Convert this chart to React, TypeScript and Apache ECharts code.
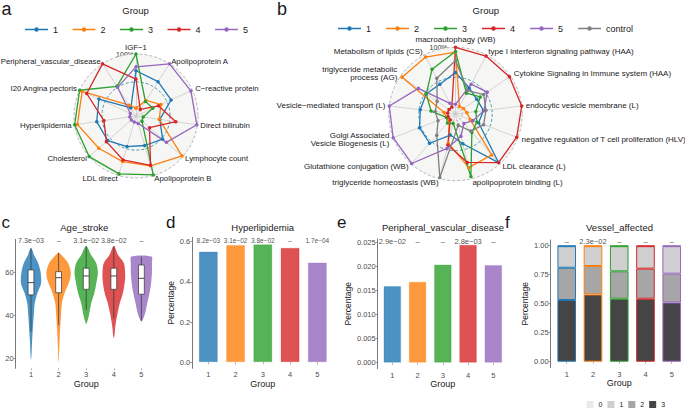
import { useEffect, useRef } from 'react'
import * as echarts from 'echarts'

const FONT = '"Liberation Sans", Arial, Helvetica, sans-serif'

const groups = ['1', '2', '3', '4', '5']
const groupColors = ['#1f77b4', '#ff7f0e', '#2ca02c', '#d62728', '#9467bd']
const controlColor = '#7f7f7f'

// ---- a: clinical traits, axes clockwise from the top, share 0..1 ----
const clinicalAxes = [
  'IGF−1',
  'Apolipoprotein A',
  'C−reactive protein',
  'Direct bilirubin',
  'Lymphocyte count',
  'Apolipoprotein B',
  'LDL direct',
  'Cholesterol',
  'Hyperlipidemia',
  'I20 Angina pectoris',
  'Peripheral_vascular_disease',
]
const clinicalG1 = [0.7, 0.62, 0.58, 0.32, 0.52, 0.44, 0.46, 0.56, 0.6, 0.62, 0.06]
const clinicalG2 = [0.03, 0.22, 0.38, 0.31, 0.98, 0.82, 0.74, 0.77, 0.95, 0.95, 0.12]
const clinicalG3 = [1.0, 0.2, 0.22, 0.02, 0.03, 0.99, 0.97, 1.0, 1.0, 1.0, 0.52]
const clinicalG4 = [0.55, 0.03, 0.33, 0.61, 0.21, 0.81, 0.71, 0.59, 0.47, 0.86, 1.0]
const clinicalG5 = [0.77, 1.0, 0.97, 0.99, 0.61, 0.03, 0.0, 0.0, 0.0, 0.0, 0.5]

// ---- b: pathways, clockwise from the top ----
const pathwayAxes = [
  'macroautophagy (WB)',
  'type I interferon signaling pathway (HAA)',
  'Cytokine Signaling in Immune system (HAA)',
  'endocytic vesicle membrane (L)',
  'negative regulation of T cell proliferation (HLV)',
  'LDL clearance (L)',
  'apolipoprotein binding (L)',
  'triglyceride homeostasis (WB)',
  'Glutathione conjugation (WB)',
  'Golgi Associated\nVesicle Biogenesis (L)',
  'Vesicle−mediated transport (L)',
  'triglyceride metabolic\nprocess (AG)',
  'Metabolism of lipids (CS)',
]
const pathwayG1 = [0.58, 0.38, 0.32, 0.36, 0.3, 0.97, 0.4, 0.25, 0.54, 0.53, 0.48, 0.48, 0.45]
const pathwayG2 = [0.92, 0.03, 0.05, 0.08, 0.15, 0.8, 0.81, 0.39, 0.05, 0.05, 0.08, 0.97, 0.96]
const pathwayG3 = [0.93, 0.28, 0.39, 0.23, 0.27, 0.3, 0.96, 0.05, 0.09, 0.05, 0.3, 0.48, 0.73]
const pathwayG4 = [1.0, 0.98, 0.98, 1.0, 0.98, 0.97, 0.72, 0.42, 0.02, 0.02, 0.02, 0.02, 0.02]
const pathwayG5 = [0.05, 0.45, 0.53, 0.37, 0.2, 0.1, 0.27, 0.48, 0.99, 1.0, 1.0, 0.64, 0.09]
const pathwayControl = [0.78, 0.33, 0.46, 0.4, 0.39, 0.27, 0.08, 0.98, 0.36, 0.2, 0.23, 0.26, 0.56]

const gridLevels = [0, 0.5, 1]
const gridLevelLabels = ['0%', '50%', '100%']

// ---- c: age at stroke; violin outline as [age, relative half width] ----
const ageViolin1 = [[19.2, 0], [21.6, 0.04], [27, 0.08], [33.2, 0.14], [40, 0.22], [45.6, 0.3], [50.2, 0.51], [54.9, 0.81], [60, 0.77], [64.2, 0.58], [67.3, 0.3], [71.2, 0]]
const ageViolin2 = [[18, 0], [25.4, 0.06], [33.2, 0.12], [40, 0.19], [45.6, 0.27], [50.2, 0.48], [56.4, 0.9], [60, 0.98], [64.2, 0.77], [67.3, 0.34], [69.1, 0]]
const ageViolin3 = [[36, 0], [37, 0.08], [40, 0.22], [45.6, 0.4], [50.2, 0.65], [56.4, 0.86], [60, 0.94], [64.2, 0.81], [68, 0.4], [72.2, 0]]
const ageViolin4 = [[29.3, 0], [30.9, 0.06], [34.7, 0.12], [40, 0.27], [45.6, 0.48], [50.2, 0.73], [56.4, 0.9], [60, 0.91], [64.2, 0.81], [68, 0.35], [72.2, 0]]
const ageViolin5 = [[37, 0], [38.5, 0.15], [40.9, 0.3], [45.6, 0.47], [50.2, 0.65], [54.9, 0.78], [60, 0.85], [64.2, 0.85], [67.3, 0.81]]
// whisker low, q1, median, q3, whisker high
const ageBox1 = [32.4, 49.5, 55.2, 61.1, 71.2]
const ageBox2 = [35.5, 50.5, 57.5, 60.3, 69.1]
const ageBox3 = [42.5, 52.1, 58.3, 61.9, 72.2]
const ageBox4 = [38.6, 52.1, 58.3, 61.9, 72.2]
const ageBox5 = [37.5, 49.8, 57.2, 63.4, 67.3]
const ageTicks = [20, 40, 60]
const agePvals = ['7.3e−03', '–', '3.1e−02', '3.8e−02', '–']

// ---- d ----
const hyperValues = [0.551, 0.584, 0.587, 0.57, 0.497]
const hyperTicks = [0, 0.2, 0.4, 0.6]
const hyperPvals = ['8.2e−03', '3.1e−02', '3.8e−02', '–', '1.7e−04']

// ---- e ----
const pvdValues = [0.0159, 0.0168, 0.0204, 0.0245, 0.0203]
const pvdTicks = [0, 0.005, 0.01, 0.015, 0.02, 0.025]
const pvdPvals = ['2.9e−02', '–', '–', '2.8e−03', '–']

// ---- f ----
const vesselLevels = ['0', '1', '2', '3']
const vesselFills = ['#e9e9e9', '#cfcfcf', '#a6a6a6', '#454545']
const vessel0 = [0.004, 0.004, 0.004, 0.004, 0.004]
const vessel1 = [0.186, 0.171, 0.217, 0.194, 0.237]
const vessel2 = [0.278, 0.245, 0.236, 0.259, 0.248]
const vessel3 = [0.532, 0.58, 0.543, 0.543, 0.511]
const vesselTicks = [0, 0.25, 0.5, 0.75, 1]
const vesselPvals = ['–', '2.3e−02', '–', '–', '–']

// layout
const RADAR_A = { center: [136, 116], radius: 62, labelX: 134, font: 7.8, gap: 3 }
const RADAR_B = { center: [455.5, 114], radius: 66.7, labelX: 447.5, font: 8, gap: 4 }
const RMIN = -1 / 9

const rgba = (hex: string, a: number) => {
  const n = parseInt(hex.slice(1), 16)
  return `rgba(${(n >> 16) & 255},${(n >> 8) & 255},${n & 255},${a})`
}
// echarts lays radar indicators counter-clockwise
const ccw = <T,>(a: T[]) => [a[0], ...a.slice(1).reverse()]

const LEGEND_LINE =
  'path://M0,2.35H9.6V3.65H0Z M13.4,2.35H23V3.65H13.4Z M13.7,3A2.2,2.2,0,1,1,9.3,3A2.2,2.2,0,1,1,13.7,3Z'

type RadarCfg = { center: number[]; radius: number; labelX: number; font: number; gap: number }

function radarSet(cfg: RadarCfg, names: string[]) {
  const plain = names.map(() => ({ name: '', min: RMIN, max: 1 }))
  const base = {
    center: cfg.center,
    shape: 'circle',
    splitNumber: 1,
    startAngle: 90,
    axisLabel: { show: false },
    axisTick: { show: false },
  }
  return [
    {
      ...base,
      radius: cfg.radius,
      indicator: ccw(names).map((n) => ({ name: n, min: RMIN, max: 1 })),
      nameGap: cfg.gap,
      axisName: { color: '#1a1a1a', fontSize: cfg.font, fontFamily: FONT },
      axisLine: { lineStyle: { color: '#c4c4c4', width: 0.7 } },
      splitLine: { lineStyle: { color: '#a3a3a3', width: 0.8, type: [3, 2] } },
      splitArea: { areaStyle: { color: ['#f6f6f5'] } },
    },
    {
      ...base,
      radius: cfg.radius * (0.9 * gridLevels[1] + 0.1),
      indicator: plain,
      axisName: { show: false },
      axisLine: { show: false },
      splitArea: { show: false },
      splitLine: { lineStyle: { color: '#3b8ea0', width: 0.9, type: [3, 2] } },
    },
    {
      ...base,
      radius: cfg.radius * (0.9 * gridLevels[0] + 0.1),
      indicator: plain,
      axisName: { show: false },
      axisLine: { show: false },
      splitArea: { show: false },
      splitLine: { lineStyle: { color: '#9a9a9a', width: 0.7, type: [2, 2] } },
    },
  ]
}

const radarSeries = (radarIndex: number, name: string, values: number[], color: string) => ({
  type: 'radar',
  radarIndex,
  name,
  symbol: 'circle',
  symbolSize: 3.5,
  lineStyle: { width: 1.3, color },
  itemStyle: { color },
  z: 3,
  data: [{ name, value: ccw(values), lineStyle: { color }, itemStyle: { color } }],
})

const text = (t: string, x: number, y: number, size: number, align = 'left', fill = '#1a1a1a') => ({
  type: 'text',
  x,
  y,
  silent: true,
  style: {
    text: t,
    fill,
    fontSize: size,
    fontFamily: FONT,
    align,
    textAlign: align,
    verticalAlign: 'middle',
    textVerticalAlign: 'middle',
  },
})

const gridLabelTexts = (cfg: RadarCfg) =>
  gridLevels.map((v, i) =>
    text(gridLevelLabels[i], cfg.labelX, cfg.center[1] - cfg.radius * (0.9 * v + 0.1), 7, 'right', '#333')
  )

const xCat = (gridIndex: number) => ({
  type: 'category',
  gridIndex,
  data: groups,
  axisLine: { show: false },
  axisTick: { show: true, length: 2, alignWithLabel: true, lineStyle: { color: '#9a9a9a', width: 0.8 } },
  axisLabel: { color: '#4d4d4d', fontSize: 7.5, margin: 2.5, fontFamily: FONT },
  name: 'Group',
  nameLocation: 'middle',
  nameGap: 10.5,
  nameTextStyle: { color: '#1a1a1a', fontSize: 9, fontFamily: FONT },
})

const yVal = (
  gridIndex: number,
  min: number,
  max: number,
  ticks: number[],
  digits: number,
  offset: number,
  name = '',
  nameGap = 15
) => ({
  type: 'value',
  gridIndex,
  min,
  max,
  offset,
  splitLine: { show: false },
  axisLine: { show: true, lineStyle: { color: '#7a7a7a', width: 1 } },
  axisTick: { show: true, length: 2, customValues: ticks, lineStyle: { color: '#7a7a7a', width: 0.8 } },
  axisLabel: {
    customValues: ticks,
    formatter: (v: number) => v.toFixed(digits),
    color: '#4d4d4d',
    fontSize: 7.5,
    margin: 2,
    fontFamily: FONT,
  },
  name,
  nameLocation: 'middle',
  nameGap,
  nameTextStyle: { color: '#1a1a1a', fontSize: 8.5, fontFamily: FONT },
})

const pSeries = (idx: number, labels: string[], y: number, size: number) => ({
  type: 'scatter',
  xAxisIndex: idx,
  yAxisIndex: idx,
  symbolSize: 1,
  silent: true,
  itemStyle: { color: 'transparent' },
  data: labels.map((_, i) => [i, y]),
  label: {
    show: true,
    position: 'inside',
    formatter: (p: any) => labels[p.dataIndex],
    color: '#1a1a1a',
    fontSize: size,
    fontFamily: FONT,
  },
  z: 5,
})

const barData = (values: number[]) =>
  values.map((v, i) => ({
    value: v,
    itemStyle: { color: rgba(groupColors[i], 0.8), borderColor: rgba(groupColors[i], 0.25), borderWidth: 1 },
  }))

function buildOption() {
  const ageViolins = [ageViolin1, ageViolin2, ageViolin3, ageViolin4, ageViolin5]
  const ageBoxes = [ageBox1, ageBox2, ageBox3, ageBox4, ageBox5]
  const vesselSets = [vessel0, vessel1, vessel2, vessel3]

  const violinSeries = {
    type: 'custom',
    xAxisIndex: 0,
    yAxisIndex: 0,
    data: groups.map((_, i) => [i, ageBoxes[i][2]]),
    renderItem: (params: any, api: any) => {
      const i = params.dataIndex
      const prof = ageViolins[i]
      const half = api.size([1, 0])[0] * 0.45
      const left = prof.map(([y, d]) => {
        const p = api.coord([i, y])
        return [p[0] - d * half, p[1]]
      })
      const right = prof
        .slice()
        .reverse()
        .filter(([, d]) => d > 0)
        .map(([y, d]) => {
          const p = api.coord([i, y])
          return [p[0] + d * half, p[1]]
        })
      return {
        type: 'polygon',
        shape: { points: left.concat(right), smooth: 0.3 },
        style: { fill: rgba(groupColors[i], 0.8) },
      }
    },
    z: 2,
  }

  const boxSeries = {
    type: 'custom',
    xAxisIndex: 0,
    yAxisIndex: 0,
    data: groups.map((_, i) => [i, ageBoxes[i][2]]),
    renderItem: (params: any, api: any) => {
      const i = params.dataIndex
      const [lo, q1, med, q3, hi] = ageBoxes[i].map((v) => api.coord([i, v]))
      const w = api.size([1, 0])[0] * 0.105
      const x = med[0]
      const stroke = { stroke: '#333', lineWidth: 0.7 }
      return {
        type: 'group',
        children: [
          { type: 'line', shape: { x1: x, y1: hi[1], x2: x, y2: q3[1] }, style: stroke },
          { type: 'line', shape: { x1: x, y1: q1[1], x2: x, y2: lo[1] }, style: stroke },
          { type: 'rect', shape: { x: x - w, y: q3[1], width: 2 * w, height: q1[1] - q3[1] }, style: { fill: '#fff', ...stroke } },
          { type: 'line', shape: { x1: x - w, y1: med[1], x2: x + w, y2: med[1] }, style: { stroke: '#333', lineWidth: 0.9 } },
        ],
      }
    },
    z: 3,
  }

  const vesselSeries = [3, 2, 1, 0].map((lvl) => ({
    type: 'bar',
    name: 'v' + vesselLevels[lvl],
    xAxisIndex: 3,
    yAxisIndex: 3,
    stack: 'vessel',
    barWidth: '71%',
    itemStyle: { color: vesselFills[lvl] },
    data: vesselSets[lvl].map((v, i) => ({
      value: v,
      itemStyle: { color: vesselFills[lvl], borderColor: groupColors[i], borderWidth: 1 },
    })),
  }))

  const legendText = { color: '#1a1a1a', fontSize: 9, fontFamily: FONT }

  return {
    animation: false,
    backgroundColor: '#ffffff',
    textStyle: { fontFamily: FONT },
    radar: [...radarSet(RADAR_A, clinicalAxes), ...radarSet(RADAR_B, pathwayAxes)],
    legend: [
      {
        data: groups,
        left: 20,
        top: 20,
        itemWidth: 23,
        itemHeight: 6,
        itemGap: 14.5,
        icon: LEGEND_LINE,
        selectedMode: false,
        textStyle: legendText,
      },
      {
        data: [...groups, 'control'],
        left: 333,
        top: 19,
        itemWidth: 23,
        itemHeight: 6,
        itemGap: 15,
        icon: LEGEND_LINE,
        selectedMode: false,
        textStyle: legendText,
      },
      {
        data: vesselLevels.map((l) => 'v' + l),
        left: 581.5,
        top: 396,
        itemWidth: 7,
        itemHeight: 7,
        itemGap: 5,
        icon: 'rect',
        selectedMode: false,
        formatter: (n: string) => n.slice(1),
        textStyle: { color: '#1a1a1a', fontSize: 7, fontFamily: FONT },
      },
    ],
    grid: [
      { left: 17.2, top: 239.3, width: 138, height: 129, outerBoundsMode: 'none' },
      { left: 194.7, top: 237.3, width: 136.25, height: 131, outerBoundsMode: 'none' },
      { left: 379.7, top: 238.9, width: 126.25, height: 129.6, outerBoundsMode: 'none' },
      { left: 553.6, top: 239.9, width: 131.25, height: 127.6, outerBoundsMode: 'none' },
    ],
    xAxis: [xCat(0), xCat(1), xCat(2), xCat(3)],
    yAxis: [
      yVal(0, 15.35, 75.35, ageTicks, 0, 1.5),
      yVal(1, -0.03, 0.622, hyperTicks, 1, 2.4, 'Percentage', 15),
      yVal(2, -0.0012, 0.0257, pvdTicks, 3, 2, 'Percentage', 25.5),
      yVal(3, -0.05, 1.05, vesselTicks, 2, 3, 'Percentage', 21.5),
    ],
    series: [
      radarSeries(0, '1', clinicalG1, groupColors[0]),
      radarSeries(0, '2', clinicalG2, groupColors[1]),
      radarSeries(0, '3', clinicalG3, groupColors[2]),
      radarSeries(0, '4', clinicalG4, groupColors[3]),
      radarSeries(0, '5', clinicalG5, groupColors[4]),
      radarSeries(3, '1', pathwayG1, groupColors[0]),
      radarSeries(3, '2', pathwayG2, groupColors[1]),
      radarSeries(3, '3', pathwayG3, groupColors[2]),
      radarSeries(3, '4', pathwayG4, groupColors[3]),
      radarSeries(3, '5', pathwayG5, groupColors[4]),
      radarSeries(3, 'control', pathwayControl, controlColor),
      violinSeries,
      boxSeries,
      pSeries(0, agePvals, 74.6, 7.1),
      { type: 'bar', xAxisIndex: 1, yAxisIndex: 1, barWidth: '70%', data: barData(hyperValues) },
      pSeries(1, hyperPvals, 0.604, 6.5),
      { type: 'bar', xAxisIndex: 2, yAxisIndex: 2, barWidth: '70%', data: barData(pvdValues) },
      pSeries(2, pvdPvals, 0.02526, 7.5),
      ...vesselSeries,
      pSeries(3, vesselPvals, 1.0405, 7.5),
    ],
    graphic: [
      text('a', 1.5, 8.5, 18),
      text('b', 277, 8.5, 18),
      text('c', 1.5, 222, 17),
      text('d', 166, 222, 17),
      text('e', 337, 222, 17),
      text('f', 505, 222, 17),
      text('Group', 135.5, 10, 9.5, 'center'),
      text('Group', 485.8, 10, 9.5, 'center'),
      text('Age_stroke', 84.3, 227.5, 9.5, 'center'),
      text('Hyperlipidemia', 262.7, 227.5, 9.5, 'center'),
      text('Peripheral_vascular_disease', 443, 227.5, 9.5, 'center'),
      text('Vessel_affected', 619.5, 227.5, 9.5, 'center'),
      ...gridLabelTexts(RADAR_A),
      ...gridLabelTexts(RADAR_B),
    ],
  }
}

export default function App() {
  const chartRef = useRef<HTMLDivElement>(null)

  useEffect(() => {
    if (!chartRef.current) return
    const chart = echarts.init(chartRef.current, null, { renderer: 'svg' })
    chart.setOption(buildOption() as any)
    return () => {
      chart.dispose()
    }
  }, [])

  return (
    <div
      ref={chartRef}
      style={{ position: 'absolute', left: 0, top: 0, width: 685, height: 408, background: '#fff' }}
    />
  )
}
